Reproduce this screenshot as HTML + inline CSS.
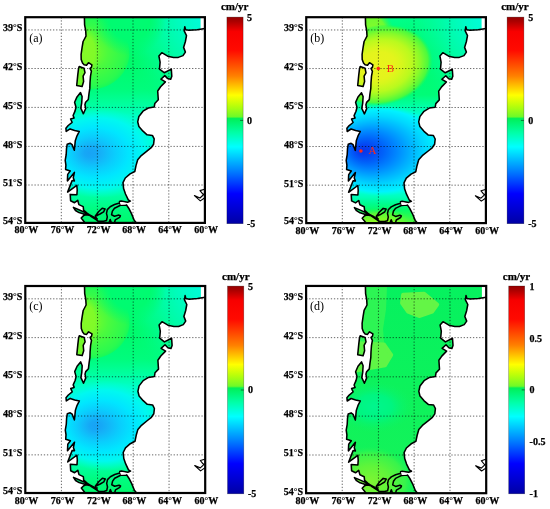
<!DOCTYPE html>
<html><head><meta charset="utf-8"><title>figure</title>
<style>
html,body{margin:0;padding:0;background:#fff}
svg{display:block}
text{font-family:"Liberation Serif","Times New Roman",serif;fill:#000}
.b{font-weight:bold;font-size:10px;stroke:#000;stroke-width:0.25px}
.u{font-size:11px}
.dg{font-size:9.2px;stroke-width:0.12px}
.r{font-size:12px}
.ab{font-size:11px;fill:#ff2818}
</style></head><body>
<svg width="550" height="509" viewBox="0 0 550 509">
<defs>
<linearGradient id="jet" x1="0" y1="0" x2="0" y2="1">
<stop offset="0" stop-color="#960000"/><stop offset="0.02" stop-color="#aa0000"/><stop offset="0.07" stop-color="#f80000"/><stop offset="0.16" stop-color="#ff0a00"/><stop offset="0.285" stop-color="#ff8000"/>
<stop offset="0.378" stop-color="#ffff00"/><stop offset="0.43" stop-color="#b9fe0a"/><stop offset="0.482" stop-color="#6efa28"/><stop offset="0.491" stop-color="#00f058"/>
<stop offset="0.56" stop-color="#00ffa8"/><stop offset="0.628" stop-color="#00ffff"/><stop offset="0.745" stop-color="#0080ff"/><stop offset="0.855" stop-color="#0000ff"/>
<stop offset="0.93" stop-color="#0000d2"/><stop offset="1" stop-color="#0000a4"/></linearGradient>
<clipPath id="clipa"><path d="M84.4,17.2L84.6,24.8L85.7,30.7L86.0,36.1L83.1,41.5L82.1,47.4L81.1,54.3L81.2,59.5L82.5,63.0L84.1,64.8L86.5,65.3L88.5,62.7L91.9,64.8L91.4,67.3L90.0,68.3L91.4,71.2L90.5,76.1L90.0,82.5L89.8,88.4L89.0,93.5L88.3,99.5L85.6,102.3L84.9,104.7L85.7,108.5L83.4,113.8L80.8,108.2L81.7,103.0L82.1,96.5L80.5,92.6L77.0,96.9L74.6,102.3L76.0,107.2L75.0,111.1L73.1,115.5L74.1,118.0L70.6,119.0L72.1,122.4L68.2,125.5L65.9,128.2L66.2,131.4L70.1,128.9L74.6,130.4L79.3,131.4L77.0,135.8L75.3,140.7L74.8,145.6L74.3,150.3L72.1,144.6L70.1,143.2L67.2,144.2L66.5,148.6L66.2,154.5L65.2,160.4L65.9,165.0L65.6,169.4L70.3,170.9L67.7,174.4L67.4,180.9L74.4,172.4L73.3,177.7L74.4,180.9L72.1,180.6L67.6,192.1L76.8,185.3L77.2,190.0L76.9,194.8L70.2,194.4L70.6,200.7L74.5,202.7L77.7,200.3L78.9,204.6L83.2,206.6L83.6,210.1L86.7,212.8L90.5,215.6L86.0,214.8L83.6,215.6L81.2,218.0L85.1,222.9L136.4,222.9L134.2,220.2L131.5,213.6L128.7,208.2L126.5,204.9L120.5,205.2L119.5,201.6L121.1,201.1L127.6,202.2L130.4,201.1L128.3,199.8L125.5,194.0L123.6,188.6L123.0,182.7L125.3,178.0L130.1,173.9L134.8,171.5L136.0,165.6L137.7,159.7L141.3,155.6L147.2,150.9L151.2,147.7L153.6,144.2L154.2,138.9L152.4,135.4L147.1,134.8L143.0,131.2L138.9,126.5L137.7,121.8L138.9,116.5L143.0,111.2L148.3,108.0L154.2,107.1L154.8,103.5L158.3,99.8L157.7,91.0L160.6,86.8L165.4,81.9L160.9,79.2L164.8,75.6L167.7,78.6L170.7,79.2L171.8,76.2L171.3,69.1L164.2,72.7L159.5,69.1L160.1,62.1L158.9,56.0L161.8,52.7L167.7,56.2L173.6,57.4L178.3,57.4L183.0,55.6L185.4,52.1L183.6,47.4L185.4,41.5L186.5,35.6L184.2,30.9L184.8,26.7L185.6,29.7L188.9,30.3L197.2,29.7L204.9,28.4L204.9,17.2ZM79.2,66.6L84.1,68.3L85.0,72.7L83.1,76.1L83.6,81.5L82.1,86.4L76.7,85.5L77.7,75.6L78.5,68.8ZM73.4,207.4L80.0,210.2L85.9,212.9L84.5,214.2L79.0,212.6L75.5,210.5Z"/></clipPath>
<linearGradient id="basea" gradientUnits="userSpaceOnUse" x1="0" y1="17.2" x2="0" y2="222.9"><stop offset="-0.001" stop-color="#00fd7d"/><stop offset="0.208" stop-color="#00fa69"/><stop offset="0.354" stop-color="#00fc7d"/><stop offset="0.427" stop-color="#00ffa0"/><stop offset="0.480" stop-color="#00ffc3"/><stop offset="0.539" stop-color="#00ffd7"/><stop offset="0.719" stop-color="#00ffd7"/><stop offset="0.801" stop-color="#00ffc8"/><stop offset="0.864" stop-color="#00ffa5"/><stop offset="0.928" stop-color="#00fc82"/><stop offset="0.996" stop-color="#00fa6e"/></linearGradient>
<radialGradient id="ga0" gradientUnits="userSpaceOnUse" cx="0" cy="0" r="1" fx="0" fy="0" gradientTransform="translate(206,14) rotate(0) scale(85,112)"><stop offset="0" stop-color="#00fbde" stop-opacity="1"/><stop offset="0.25" stop-color="#00fcc8" stop-opacity="1"/><stop offset="0.5" stop-color="#00fcaf" stop-opacity="0.9"/><stop offset="0.75" stop-color="#00fc96" stop-opacity="0.6"/><stop offset="1" stop-color="#00fb78" stop-opacity="0"/></radialGradient>
<radialGradient id="ga1" gradientUnits="userSpaceOnUse" cx="0" cy="0" r="1" fx="-0.18" fy="0" gradientTransform="translate(100,153) rotate(0) scale(60,45)"><stop offset="0" stop-color="#18a3f5" stop-opacity="1"/><stop offset="0.1" stop-color="#16a8f6" stop-opacity="1"/><stop offset="0.19" stop-color="#14b4f8" stop-opacity="1"/><stop offset="0.36" stop-color="#0acdfd" stop-opacity="1"/><stop offset="0.56" stop-color="#00e6ff" stop-opacity="1"/><stop offset="0.78" stop-color="#00f8f0" stop-opacity="1"/><stop offset="1" stop-color="#00ffd7" stop-opacity="0"/></radialGradient>
<radialGradient id="ga2" gradientUnits="userSpaceOnUse" cx="0" cy="0" r="1" fx="0" fy="0" gradientTransform="translate(90,53) rotate(0) scale(40,37)"><stop offset="0" stop-color="#6cfa2f" stop-opacity="1"/><stop offset="0.25" stop-color="#62fa33" stop-opacity="1"/><stop offset="0.45" stop-color="#4bfa3e" stop-opacity="1"/><stop offset="0.875" stop-color="#2afa4f" stop-opacity="1"/><stop offset="0.97" stop-color="#19fa58" stop-opacity="1"/><stop offset="1" stop-color="#14fa5a" stop-opacity="0"/></radialGradient>
<radialGradient id="ga3" gradientUnits="userSpaceOnUse" cx="0" cy="0" r="1" fx="0" fy="0" gradientTransform="translate(87,52) rotate(0) scale(14,27)"><stop offset="0" stop-color="#85fa28" stop-opacity="1"/><stop offset="0.55" stop-color="#80fa28" stop-opacity="1"/><stop offset="1" stop-color="#69fa30" stop-opacity="0"/></radialGradient>
<radialGradient id="ga4" gradientUnits="userSpaceOnUse" cx="0" cy="0" r="1" fx="0" fy="0" gradientTransform="translate(130,20) rotate(0) scale(36,36)"><stop offset="0" stop-color="#00fb73" stop-opacity="1"/><stop offset="0.55" stop-color="#00fb70" stop-opacity="1"/><stop offset="1" stop-color="#00fb6e" stop-opacity="0"/></radialGradient>
<radialGradient id="ga5" gradientUnits="userSpaceOnUse" cx="0" cy="0" r="1" fx="0" fy="0" gradientTransform="translate(81,76) rotate(0) scale(7.5,14)"><stop offset="0" stop-color="#76fa2a" stop-opacity="1"/><stop offset="0.7" stop-color="#70fa2c" stop-opacity="1"/><stop offset="1" stop-color="#64fa30" stop-opacity="0"/></radialGradient>
<clipPath id="clipb"><path d="M365.4,17.2L365.6,24.8L366.7,30.7L367.0,36.1L364.1,41.5L363.1,47.4L362.1,54.3L362.2,59.5L363.5,63.0L365.1,64.8L367.5,65.3L369.5,62.7L372.9,64.8L372.4,67.3L371.0,68.3L372.4,71.3L371.5,76.2L371.0,82.6L370.8,88.5L370.0,93.6L369.3,99.6L366.6,102.4L365.9,104.8L366.7,108.6L364.4,113.9L361.8,108.3L362.7,103.1L363.1,96.6L361.5,92.7L358.0,97.0L355.6,102.4L357.0,107.3L356.0,111.2L354.1,115.6L355.1,118.1L351.6,119.1L353.1,122.5L349.2,125.6L346.9,128.3L347.2,131.5L351.1,129.0L355.6,130.5L360.3,131.5L358.0,135.9L356.3,140.8L355.8,145.7L355.3,150.4L353.1,144.7L351.1,143.3L348.2,144.3L347.5,148.7L347.2,154.6L346.2,160.5L346.9,165.1L346.6,169.5L351.3,171.0L348.7,174.6L348.4,181.1L355.4,172.6L354.3,177.9L355.4,181.1L353.1,180.8L348.6,192.3L357.8,185.5L358.2,190.2L357.9,195.0L351.2,194.6L351.6,200.9L355.5,202.9L358.7,200.5L359.9,204.8L364.2,206.8L364.6,210.3L367.7,213.0L371.5,215.8L367.0,215.0L364.6,215.8L362.2,218.2L366.1,223.1L417.4,223.1L415.2,220.4L412.5,213.8L409.7,208.4L407.5,205.1L401.5,205.4L400.5,201.8L402.1,201.3L408.6,202.4L411.4,201.3L409.3,200.0L406.5,194.2L404.6,188.8L404.0,182.9L406.3,178.2L411.1,174.1L415.8,171.7L417.0,165.7L418.7,159.8L422.3,155.7L428.2,151.0L432.2,147.8L434.6,144.3L435.2,139.0L433.4,135.5L428.1,134.9L424.0,131.3L419.9,126.6L418.7,121.9L419.9,116.6L424.0,111.3L429.3,108.1L435.2,107.2L435.8,103.6L439.3,99.9L438.7,91.1L441.6,86.9L446.4,82.0L441.9,79.3L445.8,75.7L448.7,78.7L451.7,79.3L452.8,76.3L452.3,69.2L445.2,72.8L440.5,69.2L441.1,62.1L439.9,56.0L442.8,52.7L448.7,56.2L454.6,57.4L459.3,57.4L464.0,55.6L466.4,52.1L464.6,47.4L466.4,41.5L467.5,35.6L465.2,30.9L465.8,26.7L466.6,29.7L469.9,30.3L478.2,29.7L485.9,28.4L485.9,17.2ZM360.2,66.6L365.1,68.3L366.0,72.8L364.1,76.2L364.6,81.6L363.1,86.5L357.7,85.6L358.7,75.7L359.5,68.9ZM354.4,207.6L361.0,210.4L366.9,213.1L365.5,214.4L360.0,212.8L356.5,210.7Z"/></clipPath>
<linearGradient id="baseb" gradientUnits="userSpaceOnUse" x1="0" y1="17.2" x2="0" y2="222.9"><stop offset="-0.001" stop-color="#00ff8c"/><stop offset="0.159" stop-color="#00fa64"/><stop offset="0.378" stop-color="#00fc78"/><stop offset="0.427" stop-color="#00ffa0"/><stop offset="0.475" stop-color="#00ffd2"/><stop offset="0.524" stop-color="#00faf5"/><stop offset="0.753" stop-color="#00faf5"/><stop offset="0.806" stop-color="#00fcee"/><stop offset="0.840" stop-color="#00ffde"/><stop offset="0.874" stop-color="#00ffb9"/><stop offset="0.908" stop-color="#00fc8c"/><stop offset="0.937" stop-color="#08fa66"/><stop offset="0.966" stop-color="#28fa50"/><stop offset="0.996" stop-color="#55fa3a"/></linearGradient>
<radialGradient id="gb0" gradientUnits="userSpaceOnUse" cx="0" cy="0" r="1" fx="0" fy="0" gradientTransform="translate(206,14) rotate(0) scale(85,112)"><stop offset="0" stop-color="#00fbde" stop-opacity="1"/><stop offset="0.25" stop-color="#00fcc8" stop-opacity="1"/><stop offset="0.5" stop-color="#00fcaf" stop-opacity="0.9"/><stop offset="0.75" stop-color="#00fc96" stop-opacity="0.6"/><stop offset="1" stop-color="#00fb78" stop-opacity="0"/></radialGradient>
<radialGradient id="gb1" gradientUnits="userSpaceOnUse" cx="0" cy="0" r="1" fx="-0.3" fy="0" gradientTransform="translate(100,150.5) rotate(0) scale(64,45.5)"><stop offset="0" stop-color="#0a32e8" stop-opacity="1"/><stop offset="0.12" stop-color="#0544f2" stop-opacity="1"/><stop offset="0.27" stop-color="#0064fa" stop-opacity="1"/><stop offset="0.42" stop-color="#0087ff" stop-opacity="1"/><stop offset="0.58" stop-color="#00afff" stop-opacity="1"/><stop offset="0.75" stop-color="#00d7ff" stop-opacity="1"/><stop offset="0.9" stop-color="#00f2ff" stop-opacity="1"/><stop offset="1" stop-color="#00fceb" stop-opacity="0"/></radialGradient>
<radialGradient id="gb2" gradientUnits="userSpaceOnUse" cx="0" cy="0" r="1" fx="0" fy="0" gradientTransform="translate(93,32) rotate(-15) scale(20,26)"><stop offset="0" stop-color="#87fa2a" stop-opacity="1"/><stop offset="0.6" stop-color="#6efa32" stop-opacity="1"/><stop offset="1" stop-color="#28fa50" stop-opacity="0"/></radialGradient>
<radialGradient id="gb3" gradientUnits="userSpaceOnUse" cx="0" cy="0" r="1" fx="-0.1" fy="0" gradientTransform="translate(100,65) rotate(-12) scale(52,40)"><stop offset="0" stop-color="#e9f31c" stop-opacity="1"/><stop offset="0.34" stop-color="#e4f41c" stop-opacity="1"/><stop offset="0.46" stop-color="#d6f71c" stop-opacity="1"/><stop offset="0.64" stop-color="#b9fa1e" stop-opacity="1"/><stop offset="0.79" stop-color="#87fa2a" stop-opacity="1"/><stop offset="0.92" stop-color="#4bfa3e" stop-opacity="1"/><stop offset="1" stop-color="#1efa55" stop-opacity="0"/></radialGradient>
<radialGradient id="gb4" gradientUnits="userSpaceOnUse" cx="0" cy="0" r="1" fx="0" fy="0" gradientTransform="translate(98,229) rotate(0) scale(40,21)"><stop offset="0" stop-color="#a8fa1e" stop-opacity="1"/><stop offset="0.45" stop-color="#87fa24" stop-opacity="1"/><stop offset="0.75" stop-color="#5afa37" stop-opacity="1"/><stop offset="1" stop-color="#28fa50" stop-opacity="0"/></radialGradient>
<clipPath id="clipc"><path d="M84.5,286.0L84.7,293.6L85.8,299.6L86.1,305.0L83.2,310.5L82.2,316.4L81.2,323.3L81.3,328.6L82.6,332.1L84.2,333.9L86.6,334.4L88.6,331.8L92.0,333.9L91.5,336.4L90.1,337.4L91.5,340.3L90.6,345.3L90.1,351.7L89.9,357.6L89.1,362.8L88.4,368.8L85.7,371.6L85.0,374.1L85.8,377.9L83.5,383.2L80.9,377.6L81.8,372.3L82.2,365.8L80.6,361.9L77.1,366.2L74.7,371.6L76.1,376.6L75.1,380.5L73.2,384.9L74.2,387.4L70.7,388.4L72.2,391.9L68.3,395.0L66.0,397.7L66.3,400.9L70.2,398.4L74.7,399.9L79.4,400.9L77.1,405.3L75.4,410.3L74.9,415.2L74.4,419.9L72.2,414.2L70.2,412.8L67.3,413.8L66.6,418.2L66.3,424.2L65.3,430.1L66.0,434.7L65.7,439.2L70.4,440.7L67.8,444.2L67.5,450.7L74.5,442.2L73.4,447.5L74.5,450.7L72.2,450.4L67.7,462.0L76.9,455.2L77.3,459.9L77.0,464.7L70.3,464.3L70.7,470.7L74.6,472.7L77.8,470.3L79.0,474.6L83.3,476.6L83.7,480.1L86.8,482.8L90.6,485.7L86.1,484.8L83.7,485.7L81.3,488.1L85.2,493.0L136.6,493.0L134.4,490.3L131.7,483.6L128.9,478.2L126.7,474.9L120.7,475.2L119.7,471.6L121.3,471.1L127.8,472.2L130.6,471.1L128.5,469.8L125.7,463.9L123.8,458.5L123.2,452.5L125.5,447.8L130.3,443.7L135.0,441.3L136.2,435.3L137.9,429.4L141.5,425.3L147.4,420.5L151.4,417.3L153.8,413.8L154.4,408.5L152.6,404.9L147.3,404.3L143.2,400.7L139.1,396.0L137.9,391.3L139.1,385.9L143.2,380.6L148.5,377.4L154.4,376.5L155.0,372.8L158.5,369.1L157.9,360.3L160.8,356.0L165.6,351.1L161.1,348.4L165.0,344.8L167.9,347.8L171.0,348.4L172.1,345.4L171.6,338.2L164.4,341.9L159.7,338.2L160.3,331.2L159.1,325.0L162.0,321.7L167.9,325.2L173.9,326.5L178.6,326.5L183.3,324.6L185.7,321.1L183.9,316.4L185.7,310.5L186.8,304.5L184.5,299.8L185.1,295.6L185.9,298.6L189.2,299.2L197.5,298.6L205.2,297.3L205.2,286.0ZM79.3,335.7L84.2,337.4L85.1,341.9L83.2,345.3L83.7,350.7L82.2,355.6L76.8,354.7L77.8,344.8L78.6,337.9ZM73.5,477.4L80.1,480.2L86.0,482.9L84.6,484.2L79.1,482.6L75.6,480.5Z"/></clipPath>
<linearGradient id="basec" gradientUnits="userSpaceOnUse" x1="0" y1="17.2" x2="0" y2="222.9"><stop offset="-0.001" stop-color="#00fd7d"/><stop offset="0.208" stop-color="#00fa69"/><stop offset="0.354" stop-color="#00fc7d"/><stop offset="0.427" stop-color="#00ffa0"/><stop offset="0.480" stop-color="#00ffc3"/><stop offset="0.539" stop-color="#00ffd7"/><stop offset="0.719" stop-color="#00ffd7"/><stop offset="0.801" stop-color="#00ffc8"/><stop offset="0.864" stop-color="#00ffa5"/><stop offset="0.928" stop-color="#00fc82"/><stop offset="0.996" stop-color="#00fa6e"/></linearGradient>
<radialGradient id="gc0" gradientUnits="userSpaceOnUse" cx="0" cy="0" r="1" fx="0" fy="0" gradientTransform="translate(206,14) rotate(0) scale(85,112)"><stop offset="0" stop-color="#00fbde" stop-opacity="1"/><stop offset="0.25" stop-color="#00fcc8" stop-opacity="1"/><stop offset="0.5" stop-color="#00fcaf" stop-opacity="0.9"/><stop offset="0.75" stop-color="#00fc96" stop-opacity="0.6"/><stop offset="1" stop-color="#00fb78" stop-opacity="0"/></radialGradient>
<radialGradient id="gc1" gradientUnits="userSpaceOnUse" cx="0" cy="0" r="1" fx="-0.18" fy="0" gradientTransform="translate(105,156) rotate(0) scale(60,45)"><stop offset="0" stop-color="#18a3f5" stop-opacity="1"/><stop offset="0.1" stop-color="#16a8f6" stop-opacity="1"/><stop offset="0.19" stop-color="#14b4f8" stop-opacity="1"/><stop offset="0.36" stop-color="#0acdfd" stop-opacity="1"/><stop offset="0.56" stop-color="#00e6ff" stop-opacity="1"/><stop offset="0.78" stop-color="#00f8f0" stop-opacity="1"/><stop offset="1" stop-color="#00ffd7" stop-opacity="0"/></radialGradient>
<radialGradient id="gc2" gradientUnits="userSpaceOnUse" cx="0" cy="0" r="1" fx="0" fy="0" gradientTransform="translate(90,53) rotate(0) scale(40,37)"><stop offset="0" stop-color="#6cfa2f" stop-opacity="1"/><stop offset="0.25" stop-color="#62fa33" stop-opacity="1"/><stop offset="0.45" stop-color="#4bfa3e" stop-opacity="1"/><stop offset="0.875" stop-color="#2afa4f" stop-opacity="1"/><stop offset="0.97" stop-color="#19fa58" stop-opacity="1"/><stop offset="1" stop-color="#14fa5a" stop-opacity="0"/></radialGradient>
<radialGradient id="gc3" gradientUnits="userSpaceOnUse" cx="0" cy="0" r="1" fx="0" fy="0" gradientTransform="translate(87,52) rotate(0) scale(14,27)"><stop offset="0" stop-color="#85fa28" stop-opacity="1"/><stop offset="0.55" stop-color="#80fa28" stop-opacity="1"/><stop offset="1" stop-color="#69fa30" stop-opacity="0"/></radialGradient>
<radialGradient id="gc4" gradientUnits="userSpaceOnUse" cx="0" cy="0" r="1" fx="0" fy="0" gradientTransform="translate(130,20) rotate(0) scale(36,36)"><stop offset="0" stop-color="#00fb73" stop-opacity="1"/><stop offset="0.55" stop-color="#00fb70" stop-opacity="1"/><stop offset="1" stop-color="#00fb6e" stop-opacity="0"/></radialGradient>
<radialGradient id="gc5" gradientUnits="userSpaceOnUse" cx="0" cy="0" r="1" fx="0" fy="0" gradientTransform="translate(81,76) rotate(0) scale(7.5,14)"><stop offset="0" stop-color="#76fa2a" stop-opacity="1"/><stop offset="0.7" stop-color="#70fa2c" stop-opacity="1"/><stop offset="1" stop-color="#64fa30" stop-opacity="0"/></radialGradient>
<clipPath id="clipd"><path d="M365.4,285.9L365.6,293.6L366.7,299.6L367.0,305.0L364.1,310.4L363.1,316.4L362.1,323.3L362.2,328.6L363.5,332.1L365.1,333.9L367.5,334.4L369.5,331.8L372.9,333.9L372.4,336.4L371.0,337.4L372.4,340.4L371.5,345.3L371.0,351.7L370.8,357.7L370.0,362.8L369.3,368.9L366.6,371.7L365.9,374.1L366.7,377.9L364.4,383.3L361.8,377.6L362.7,372.4L363.1,365.8L361.5,361.9L358.0,366.3L355.6,371.7L357.0,376.6L356.0,380.6L354.1,385.0L355.1,387.5L351.6,388.5L353.1,391.9L349.2,395.1L346.9,397.8L347.2,401.0L351.1,398.5L355.6,400.0L360.3,401.0L358.0,405.4L356.3,410.4L355.8,415.3L355.3,420.1L353.1,414.3L351.1,412.9L348.2,413.9L347.5,418.3L347.2,424.3L346.2,430.2L346.9,434.9L346.6,439.3L351.3,440.8L348.7,444.3L348.4,450.9L355.4,442.3L354.3,447.7L355.4,450.9L353.1,450.6L348.6,462.2L357.8,455.3L358.2,460.1L357.9,464.9L351.2,464.5L351.6,470.8L355.5,472.8L358.7,470.4L359.9,474.8L364.2,476.8L364.6,480.3L367.7,483.0L371.5,485.8L367.0,485.0L364.6,485.8L362.2,488.3L366.1,493.2L417.5,493.2L415.3,490.5L412.6,483.8L409.8,478.4L407.6,475.1L401.6,475.4L400.6,471.7L402.2,471.2L408.7,472.3L411.5,471.2L409.4,469.9L406.6,464.1L404.7,458.6L404.1,452.7L406.4,448.0L411.2,443.8L415.9,441.4L417.1,435.5L418.8,429.5L422.4,425.4L428.4,420.7L432.4,417.4L434.8,413.9L435.4,408.6L433.6,405.0L428.3,404.4L424.1,400.8L420.0,396.1L418.8,391.3L420.0,386.0L424.1,380.7L429.5,377.4L435.4,376.5L436.0,372.9L439.5,369.2L438.9,360.3L441.8,356.1L446.6,351.1L442.1,348.4L446.0,344.8L448.9,347.8L451.9,348.4L453.0,345.4L452.5,338.2L445.4,341.9L440.7,338.2L441.3,331.2L440.1,325.0L443.0,321.7L448.9,325.2L454.8,326.5L459.5,326.5L464.2,324.6L466.7,321.1L464.8,316.4L466.7,310.4L467.8,304.5L465.4,299.8L466.0,295.5L466.9,298.5L470.2,299.1L478.5,298.5L486.2,297.2L486.2,285.9ZM360.2,335.7L365.1,337.4L366.0,341.9L364.1,345.3L364.6,350.7L363.1,355.7L357.7,354.8L358.7,344.8L359.5,337.9ZM354.4,477.6L361.0,480.4L366.9,483.1L365.5,484.4L360.0,482.8L356.5,480.7Z"/></clipPath>
<linearGradient id="based" gradientUnits="userSpaceOnUse" x1="0" y1="17.2" x2="0" y2="222.9"><stop offset="-0.001" stop-color="#06f15f"/><stop offset="0.451" stop-color="#0cf25c"/><stop offset="0.996" stop-color="#16f359"/></linearGradient>
<radialGradient id="gd0" gradientUnits="userSpaceOnUse" cx="0" cy="0" r="1" fx="0" fy="0" gradientTransform="translate(93,137) rotate(0) scale(40,26)"><stop offset="0" stop-color="#00f58e" stop-opacity="1"/><stop offset="0.45" stop-color="#00f580" stop-opacity="1"/><stop offset="1" stop-color="#0ef360" stop-opacity="0"/></radialGradient>
<radialGradient id="gd1" gradientUnits="userSpaceOnUse" cx="0" cy="0" r="1" fx="0" fy="0" gradientTransform="translate(89,212) rotate(0) scale(44,36)"><stop offset="0" stop-color="#80f532" stop-opacity="1"/><stop offset="0.45" stop-color="#5ff53a" stop-opacity="1"/><stop offset="0.8" stop-color="#37f44c" stop-opacity="1"/><stop offset="1" stop-color="#18f358" stop-opacity="0"/></radialGradient>
</defs>
<rect width="550" height="509" fill="#fff"/>
<g clip-path="url(#clipa)">
<g transform="translate(25.25,17.2) scale(1.0000,1.0000) translate(-25.25,-17.2)">
<rect x="20" y="12" width="190" height="216" fill="url(#basea)"/>
<rect x="20" y="12" width="190" height="216" fill="url(#ga0)"/>
<rect x="20" y="12" width="190" height="216" fill="url(#ga1)"/>
<rect x="20" y="12" width="190" height="216" fill="url(#ga2)"/>
<rect x="20" y="12" width="190" height="216" fill="url(#ga3)"/>
<rect x="20" y="12" width="190" height="216" fill="url(#ga4)"/>
<rect x="20" y="12" width="190" height="216" fill="url(#ga5)"/>
</g>
<rect x="200.6" y="17.2" width="4.3" height="11.8" fill="#fff"/>
</g>
<path d="M84.4,17.2L84.6,24.8L85.7,30.7L86.0,36.1L83.1,41.5L82.1,47.4L81.1,54.3L81.2,59.5L82.5,63.0L84.1,64.8L86.5,65.3L88.5,62.7L91.9,64.8L91.4,67.3L90.0,68.3L91.4,71.2L90.5,76.1L90.0,82.5L89.8,88.4L89.0,93.5L88.3,99.5L85.6,102.3L84.9,104.7L85.7,108.5L83.4,113.8L80.8,108.2L81.7,103.0L82.1,96.5L80.5,92.6L77.0,96.9L74.6,102.3L76.0,107.2L75.0,111.1L73.1,115.5L74.1,118.0L70.6,119.0L72.1,122.4L68.2,125.5L65.9,128.2L66.2,131.4L70.1,128.9L74.6,130.4L79.3,131.4L77.0,135.8L75.3,140.7L74.8,145.6L74.3,150.3L72.1,144.6L70.1,143.2L67.2,144.2L66.5,148.6L66.2,154.5L65.2,160.4L65.9,165.0L65.6,169.4L70.3,170.9L67.7,174.4L67.4,180.9L74.4,172.4L73.3,177.7L74.4,180.9L72.1,180.6L67.6,192.1L76.8,185.3L77.2,190.0L76.9,194.8L70.2,194.4L70.6,200.7L74.5,202.7L77.7,200.3L78.9,204.6L83.2,206.6L83.6,210.1L86.7,212.8L90.5,215.6L86.0,214.8L83.6,215.6L81.2,218.0L85.1,222.9M136.4,222.9L134.2,220.2L131.5,213.6L128.7,208.2L126.5,204.9L120.5,205.2L119.5,201.6L121.1,201.1L127.6,202.2L130.4,201.1L128.3,199.8L125.5,194.0L123.6,188.6L123.0,182.7L125.3,178.0L130.1,173.9L134.8,171.5L136.0,165.6L137.7,159.7L141.3,155.6L147.2,150.9L151.2,147.7L153.6,144.2L154.2,138.9L152.4,135.4L147.1,134.8L143.0,131.2L138.9,126.5L137.7,121.8L138.9,116.5L143.0,111.2L148.3,108.0L154.2,107.1L154.8,103.5L158.3,99.8L157.7,91.0L160.6,86.8L165.4,81.9L160.9,79.2L164.8,75.6L167.7,78.6L170.7,79.2L171.8,76.2L171.3,69.1L164.2,72.7L159.5,69.1L160.1,62.1L158.9,56.0L161.8,52.7L167.7,56.2L173.6,57.4L178.3,57.4L183.0,55.6L185.4,52.1L183.6,47.4L185.4,41.5L186.5,35.6L184.2,30.9L184.8,26.7L185.6,29.7L188.9,30.3L197.2,29.7L204.9,28.4M79.2,66.6L84.1,68.3L85.0,72.7L83.1,76.1L83.6,81.5L82.1,86.4L76.7,85.5L77.7,75.6L78.5,68.8ZM73.4,207.4L80.0,210.2L85.9,212.9L84.5,214.2L79.0,212.6L75.5,210.5ZM119.6,203.1L114.5,204.5L110.2,206.7L107.3,209.6L106.5,213.3L107.3,216.9L106.5,220.5L103.6,221.3L98.5,221.3L96.4,219.8L91.3,216.5L86.9,213.6M97.1,219.1L95.2,216.2L98.5,211.8L102.2,208.2L105.1,208.9L103.6,211.8L100.0,214.0L95.2,216.2M120.4,205.3L117.5,206.7L114.5,208.2L112.4,211.1L111.6,214.7L114.5,216.2L118.9,215.1L120.4,215.8L119.6,217.3L115.3,219.8L114.5,222.7M109.1,222.4L110.2,219.5L111.3,222.4M85.9,212.9L93.0,216.6L96.9,219.8" fill="none" stroke="#000" stroke-width="1.55" stroke-linejoin="round" stroke-linecap="round"/>
<path d="M204.5,189.3L200.0,190.6L202.7,193.9L204.3,194.6M204.3,194.0L200.0,198.0L194.4,195.6L200.3,200.9L204.5,198.0" fill="none" stroke="#000" stroke-width="1.15" stroke-linejoin="round"/>
<path d="M119.9,202.0L125.5,203.0L125.8,204.6L120.6,204.8Z" fill="#fff"/>
<path d="M61.30,17.2V222.9M97.40,17.2V222.9M133.00,17.2V222.9M168.80,17.2V222.9M25.2,29.95H204.9M25.2,68.50H204.9M25.2,107.40H204.9M25.2,146.40H204.9M25.2,185.00H204.9" fill="none" stroke="#000" stroke-opacity="0.6" stroke-width="1" stroke-dasharray="1.3 1.79"/>
<rect x="25.25" y="17.2" width="179.65" height="205.70" fill="none" stroke="#000" stroke-width="2.2"/>
<text class="b" x="26.4" y="233.4" text-anchor="middle">80<tspan class="dg" dy="-1.0">°</tspan><tspan dy="1.0">W</tspan></text>
<text class="b" x="62.5" y="233.4" text-anchor="middle">76<tspan class="dg" dy="-1.0">°</tspan><tspan dy="1.0">W</tspan></text>
<text class="b" x="98.6" y="233.4" text-anchor="middle">72<tspan class="dg" dy="-1.0">°</tspan><tspan dy="1.0">W</tspan></text>
<text class="b" x="134.2" y="233.4" text-anchor="middle">68<tspan class="dg" dy="-1.0">°</tspan><tspan dy="1.0">W</tspan></text>
<text class="b" x="170.0" y="233.4" text-anchor="middle">64<tspan class="dg" dy="-1.0">°</tspan><tspan dy="1.0">W</tspan></text>
<text class="b" x="206.1" y="233.4" text-anchor="middle">60<tspan class="dg" dy="-1.0">°</tspan><tspan dy="1.0">W</tspan></text>
<text class="b" x="22.2" y="31.2" text-anchor="end">39<tspan class="dg" dy="-1.0">°</tspan><tspan dy="1.0">S</tspan></text>
<text class="b" x="22.2" y="69.8" text-anchor="end">42<tspan class="dg" dy="-1.0">°</tspan><tspan dy="1.0">S</tspan></text>
<text class="b" x="22.2" y="108.7" text-anchor="end">45<tspan class="dg" dy="-1.0">°</tspan><tspan dy="1.0">S</tspan></text>
<text class="b" x="22.2" y="147.7" text-anchor="end">48<tspan class="dg" dy="-1.0">°</tspan><tspan dy="1.0">S</tspan></text>
<text class="b" x="22.2" y="186.3" text-anchor="end">51<tspan class="dg" dy="-1.0">°</tspan><tspan dy="1.0">S</tspan></text>
<text class="b" x="22.2" y="224.2" text-anchor="end">54<tspan class="dg" dy="-1.0">°</tspan><tspan dy="1.0">S</tspan></text>
<text class="r" x="29.2" y="41.5">(a)</text>
<rect x="226.9" y="17.1" width="16.2" height="206.6" fill="url(#jet)" stroke="#000" stroke-opacity="0.4" stroke-width="0.6"/>
<path d="M240.1,120.4h3" stroke="#000" stroke-opacity="0.7" stroke-width="0.7"/>
<text class="b u" x="234.7" y="10.4" text-anchor="middle">cm/yr</text>
<text class="b" x="247.0" y="21.3">5</text>
<text class="b" x="247.0" y="123.9">0</text>
<text class="b" x="247.0" y="227.3">-5</text>
<g clip-path="url(#clipb)">
<g transform="translate(306.25,17.2) scale(1.0000,1.0010) translate(-25.25,-17.2)">
<rect x="20" y="12" width="190" height="216" fill="url(#baseb)"/>
<rect x="20" y="12" width="190" height="216" fill="url(#gb0)"/>
<rect x="20" y="12" width="190" height="216" fill="url(#gb1)"/>
<rect x="20" y="12" width="190" height="216" fill="url(#gb2)"/>
<rect x="20" y="12" width="190" height="216" fill="url(#gb3)"/>
<rect x="20" y="12" width="190" height="216" fill="url(#gb4)"/>
</g>
<rect x="481.6" y="17.2" width="4.3" height="11.8" fill="#fff"/>
</g>
<path d="M365.4,17.2L365.6,24.8L366.7,30.7L367.0,36.1L364.1,41.5L363.1,47.4L362.1,54.3L362.2,59.5L363.5,63.0L365.1,64.8L367.5,65.3L369.5,62.7L372.9,64.8L372.4,67.3L371.0,68.3L372.4,71.3L371.5,76.2L371.0,82.6L370.8,88.5L370.0,93.6L369.3,99.6L366.6,102.4L365.9,104.8L366.7,108.6L364.4,113.9L361.8,108.3L362.7,103.1L363.1,96.6L361.5,92.7L358.0,97.0L355.6,102.4L357.0,107.3L356.0,111.2L354.1,115.6L355.1,118.1L351.6,119.1L353.1,122.5L349.2,125.6L346.9,128.3L347.2,131.5L351.1,129.0L355.6,130.5L360.3,131.5L358.0,135.9L356.3,140.8L355.8,145.7L355.3,150.4L353.1,144.7L351.1,143.3L348.2,144.3L347.5,148.7L347.2,154.6L346.2,160.5L346.9,165.1L346.6,169.5L351.3,171.0L348.7,174.6L348.4,181.1L355.4,172.6L354.3,177.9L355.4,181.1L353.1,180.8L348.6,192.3L357.8,185.5L358.2,190.2L357.9,195.0L351.2,194.6L351.6,200.9L355.5,202.9L358.7,200.5L359.9,204.8L364.2,206.8L364.6,210.3L367.7,213.0L371.5,215.8L367.0,215.0L364.6,215.8L362.2,218.2L366.1,223.1M417.4,223.1L415.2,220.4L412.5,213.8L409.7,208.4L407.5,205.1L401.5,205.4L400.5,201.8L402.1,201.3L408.6,202.4L411.4,201.3L409.3,200.0L406.5,194.2L404.6,188.8L404.0,182.9L406.3,178.2L411.1,174.1L415.8,171.7L417.0,165.7L418.7,159.8L422.3,155.7L428.2,151.0L432.2,147.8L434.6,144.3L435.2,139.0L433.4,135.5L428.1,134.9L424.0,131.3L419.9,126.6L418.7,121.9L419.9,116.6L424.0,111.3L429.3,108.1L435.2,107.2L435.8,103.6L439.3,99.9L438.7,91.1L441.6,86.9L446.4,82.0L441.9,79.3L445.8,75.7L448.7,78.7L451.7,79.3L452.8,76.3L452.3,69.2L445.2,72.8L440.5,69.2L441.1,62.1L439.9,56.0L442.8,52.7L448.7,56.2L454.6,57.4L459.3,57.4L464.0,55.6L466.4,52.1L464.6,47.4L466.4,41.5L467.5,35.6L465.2,30.9L465.8,26.7L466.6,29.7L469.9,30.3L478.2,29.7L485.9,28.4M360.2,66.6L365.1,68.3L366.0,72.8L364.1,76.2L364.6,81.6L363.1,86.5L357.7,85.6L358.7,75.7L359.5,68.9ZM354.4,207.6L361.0,210.4L366.9,213.1L365.5,214.4L360.0,212.8L356.5,210.7ZM400.6,203.3L395.5,204.7L391.2,206.9L388.3,209.8L387.5,213.5L388.3,217.1L387.5,220.7L384.6,221.5L379.5,221.5L377.4,220.0L372.3,216.7L367.9,213.8M378.1,219.3L376.2,216.4L379.5,212.0L383.2,208.4L386.1,209.1L384.6,212.0L381.0,214.2L376.2,216.4M401.4,205.5L398.5,206.9L395.5,208.4L393.4,211.3L392.6,214.9L395.5,216.4L399.9,215.3L401.4,216.0L400.6,217.5L396.3,220.0L395.5,222.9M390.1,222.6L391.2,219.7L392.3,222.6M366.9,213.1L374.0,216.8L377.9,220.0" fill="none" stroke="#000" stroke-width="1.55" stroke-linejoin="round" stroke-linecap="round"/>
<path d="M485.5,189.5L481.0,190.8L483.7,194.1L485.3,194.8M485.3,194.2L481.0,198.2L475.4,195.8L481.3,201.1L485.5,198.2" fill="none" stroke="#000" stroke-width="1.15" stroke-linejoin="round"/>
<path d="M400.9,202.2L406.5,203.2L406.8,204.8L401.6,205.0Z" fill="#fff"/>
<path d="M342.30,17.2V223.1M378.40,17.2V223.1M414.00,17.2V223.1M449.80,17.2V223.1M306.2,29.96H485.9M306.2,68.55H485.9M306.2,107.49H485.9M306.2,146.53H485.9M306.2,185.16H485.9" fill="none" stroke="#000" stroke-opacity="0.6" stroke-width="1" stroke-dasharray="1.3 1.79"/>
<rect x="306.25" y="17.2" width="179.65" height="205.90" fill="none" stroke="#000" stroke-width="2.2"/>
<text class="b" x="307.4" y="233.6" text-anchor="middle">80<tspan class="dg" dy="-1.0">°</tspan><tspan dy="1.0">W</tspan></text>
<text class="b" x="343.5" y="233.6" text-anchor="middle">76<tspan class="dg" dy="-1.0">°</tspan><tspan dy="1.0">W</tspan></text>
<text class="b" x="379.6" y="233.6" text-anchor="middle">72<tspan class="dg" dy="-1.0">°</tspan><tspan dy="1.0">W</tspan></text>
<text class="b" x="415.2" y="233.6" text-anchor="middle">68<tspan class="dg" dy="-1.0">°</tspan><tspan dy="1.0">W</tspan></text>
<text class="b" x="451.0" y="233.6" text-anchor="middle">64<tspan class="dg" dy="-1.0">°</tspan><tspan dy="1.0">W</tspan></text>
<text class="b" x="487.1" y="233.6" text-anchor="middle">60<tspan class="dg" dy="-1.0">°</tspan><tspan dy="1.0">W</tspan></text>
<text class="b" x="303.2" y="31.3" text-anchor="end">39<tspan class="dg" dy="-1.0">°</tspan><tspan dy="1.0">S</tspan></text>
<text class="b" x="303.2" y="69.8" text-anchor="end">42<tspan class="dg" dy="-1.0">°</tspan><tspan dy="1.0">S</tspan></text>
<text class="b" x="303.2" y="108.8" text-anchor="end">45<tspan class="dg" dy="-1.0">°</tspan><tspan dy="1.0">S</tspan></text>
<text class="b" x="303.2" y="147.8" text-anchor="end">48<tspan class="dg" dy="-1.0">°</tspan><tspan dy="1.0">S</tspan></text>
<text class="b" x="303.2" y="186.5" text-anchor="end">51<tspan class="dg" dy="-1.0">°</tspan><tspan dy="1.0">S</tspan></text>
<text class="b" x="303.2" y="224.4" text-anchor="end">54<tspan class="dg" dy="-1.0">°</tspan><tspan dy="1.0">S</tspan></text>
<text class="r" x="310.2" y="41.5">(b)</text>
<rect x="507.1" y="17.1" width="16.8" height="206.6" fill="url(#jet)" stroke="#000" stroke-opacity="0.4" stroke-width="0.6"/>
<path d="M520.9,120.4h3" stroke="#000" stroke-opacity="0.7" stroke-width="0.7"/>
<text class="b u" x="514.9" y="10.1" text-anchor="middle">cm/yr</text>
<text class="b" x="528.2" y="21.3">5</text>
<text class="b" x="528.2" y="123.9">0</text>
<text class="b" x="528.2" y="227.3">-5</text>
<g clip-path="url(#clipc)">
<g transform="translate(25.3,286.0) scale(1.0014,1.0063) translate(-25.25,-17.2)">
<rect x="20" y="12" width="190" height="216" fill="url(#basec)"/>
<rect x="20" y="12" width="190" height="216" fill="url(#gc0)"/>
<rect x="20" y="12" width="190" height="216" fill="url(#gc1)"/>
<rect x="20" y="12" width="190" height="216" fill="url(#gc2)"/>
<rect x="20" y="12" width="190" height="216" fill="url(#gc3)"/>
<rect x="20" y="12" width="190" height="216" fill="url(#gc4)"/>
<rect x="20" y="12" width="190" height="216" fill="url(#gc5)"/>
</g>
<rect x="200.9" y="286.0" width="4.3" height="11.9" fill="#fff"/>
</g>
<path d="M84.5,286.0L84.7,293.6L85.8,299.6L86.1,305.0L83.2,310.5L82.2,316.4L81.2,323.3L81.3,328.6L82.6,332.1L84.2,333.9L86.6,334.4L88.6,331.8L92.0,333.9L91.5,336.4L90.1,337.4L91.5,340.3L90.6,345.3L90.1,351.7L89.9,357.6L89.1,362.8L88.4,368.8L85.7,371.6L85.0,374.1L85.8,377.9L83.5,383.2L80.9,377.6L81.8,372.3L82.2,365.8L80.6,361.9L77.1,366.2L74.7,371.6L76.1,376.6L75.1,380.5L73.2,384.9L74.2,387.4L70.7,388.4L72.2,391.9L68.3,395.0L66.0,397.7L66.3,400.9L70.2,398.4L74.7,399.9L79.4,400.9L77.1,405.3L75.4,410.3L74.9,415.2L74.4,419.9L72.2,414.2L70.2,412.8L67.3,413.8L66.6,418.2L66.3,424.2L65.3,430.1L66.0,434.7L65.7,439.2L70.4,440.7L67.8,444.2L67.5,450.7L74.5,442.2L73.4,447.5L74.5,450.7L72.2,450.4L67.7,462.0L76.9,455.2L77.3,459.9L77.0,464.7L70.3,464.3L70.7,470.7L74.6,472.7L77.8,470.3L79.0,474.6L83.3,476.6L83.7,480.1L86.8,482.8L90.6,485.7L86.1,484.8L83.7,485.7L81.3,488.1L85.2,493.0M136.6,493.0L134.4,490.3L131.7,483.6L128.9,478.2L126.7,474.9L120.7,475.2L119.7,471.6L121.3,471.1L127.8,472.2L130.6,471.1L128.5,469.8L125.7,463.9L123.8,458.5L123.2,452.5L125.5,447.8L130.3,443.7L135.0,441.3L136.2,435.3L137.9,429.4L141.5,425.3L147.4,420.5L151.4,417.3L153.8,413.8L154.4,408.5L152.6,404.9L147.3,404.3L143.2,400.7L139.1,396.0L137.9,391.3L139.1,385.9L143.2,380.6L148.5,377.4L154.4,376.5L155.0,372.8L158.5,369.1L157.9,360.3L160.8,356.0L165.6,351.1L161.1,348.4L165.0,344.8L167.9,347.8L171.0,348.4L172.1,345.4L171.6,338.2L164.4,341.9L159.7,338.2L160.3,331.2L159.1,325.0L162.0,321.7L167.9,325.2L173.9,326.5L178.6,326.5L183.3,324.6L185.7,321.1L183.9,316.4L185.7,310.5L186.8,304.5L184.5,299.8L185.1,295.6L185.9,298.6L189.2,299.2L197.5,298.6L205.2,297.3M79.3,335.7L84.2,337.4L85.1,341.9L83.2,345.3L83.7,350.7L82.2,355.6L76.8,354.7L77.8,344.8L78.6,337.9ZM73.5,477.4L80.1,480.2L86.0,482.9L84.6,484.2L79.1,482.6L75.6,480.5ZM119.8,473.1L114.7,474.5L110.4,476.7L107.5,479.6L106.7,483.3L107.5,487.0L106.7,490.6L103.8,491.4L98.7,491.4L96.5,489.9L91.4,486.6L87.0,483.6M97.2,489.2L95.3,486.3L98.7,481.8L102.4,478.2L105.3,478.9L103.8,481.8L100.2,484.0L95.3,486.3M120.6,475.3L117.7,476.7L114.7,478.2L112.6,481.1L111.8,484.7L114.7,486.3L119.1,485.2L120.6,485.9L119.8,487.4L115.5,489.9L114.7,492.8M109.3,492.5L110.4,489.6L111.5,492.5M86.0,482.9L93.1,486.7L97.0,489.9" fill="none" stroke="#000" stroke-width="1.55" stroke-linejoin="round" stroke-linecap="round"/>
<path d="M204.8,459.2L200.3,460.5L203.0,463.8L204.6,464.5M204.6,463.9L200.3,467.9L194.7,465.5L200.6,470.9L204.8,467.9" fill="none" stroke="#000" stroke-width="1.15" stroke-linejoin="round"/>
<path d="M120.1,472.0L125.7,473.0L126.0,474.6L120.8,474.8Z" fill="#fff"/>
<path d="M61.40,286.0V493.0M97.55,286.0V493.0M133.20,286.0V493.0M169.05,286.0V493.0M25.3,298.83H205.2M25.3,337.62H205.2M25.3,376.77H205.2M25.3,416.02H205.2M25.3,454.86H205.2" fill="none" stroke="#000" stroke-opacity="0.6" stroke-width="1" stroke-dasharray="1.3 1.79"/>
<rect x="25.3" y="286.0" width="179.90" height="207.00" fill="none" stroke="#000" stroke-width="2.2"/>
<text class="b" x="26.5" y="503.5" text-anchor="middle">80<tspan class="dg" dy="-1.0">°</tspan><tspan dy="1.0">W</tspan></text>
<text class="b" x="62.6" y="503.5" text-anchor="middle">76<tspan class="dg" dy="-1.0">°</tspan><tspan dy="1.0">W</tspan></text>
<text class="b" x="98.8" y="503.5" text-anchor="middle">72<tspan class="dg" dy="-1.0">°</tspan><tspan dy="1.0">W</tspan></text>
<text class="b" x="134.4" y="503.5" text-anchor="middle">68<tspan class="dg" dy="-1.0">°</tspan><tspan dy="1.0">W</tspan></text>
<text class="b" x="170.2" y="503.5" text-anchor="middle">64<tspan class="dg" dy="-1.0">°</tspan><tspan dy="1.0">W</tspan></text>
<text class="b" x="206.4" y="503.5" text-anchor="middle">60<tspan class="dg" dy="-1.0">°</tspan><tspan dy="1.0">W</tspan></text>
<text class="b" x="22.3" y="300.1" text-anchor="end">39<tspan class="dg" dy="-1.0">°</tspan><tspan dy="1.0">S</tspan></text>
<text class="b" x="22.3" y="338.9" text-anchor="end">42<tspan class="dg" dy="-1.0">°</tspan><tspan dy="1.0">S</tspan></text>
<text class="b" x="22.3" y="378.1" text-anchor="end">45<tspan class="dg" dy="-1.0">°</tspan><tspan dy="1.0">S</tspan></text>
<text class="b" x="22.3" y="417.3" text-anchor="end">48<tspan class="dg" dy="-1.0">°</tspan><tspan dy="1.0">S</tspan></text>
<text class="b" x="22.3" y="456.2" text-anchor="end">51<tspan class="dg" dy="-1.0">°</tspan><tspan dy="1.0">S</tspan></text>
<text class="b" x="22.3" y="494.3" text-anchor="end">54<tspan class="dg" dy="-1.0">°</tspan><tspan dy="1.0">S</tspan></text>
<text class="r" x="29.3" y="310.3">(c)</text>
<rect x="227.5" y="286.1" width="16.3" height="207.7" fill="url(#jet)" stroke="#000" stroke-opacity="0.4" stroke-width="0.6"/>
<path d="M240.8,390.0h3" stroke="#000" stroke-opacity="0.7" stroke-width="0.7"/>
<text class="b u" x="235.8" y="279.9" text-anchor="middle">cm/yr</text>
<text class="b" x="248.0" y="290.2">5</text>
<text class="b" x="248.0" y="393.2">0</text>
<text class="b" x="248.0" y="497.3">-5</text>
<g clip-path="url(#clipd)">
<g transform="translate(306.1,285.95) scale(1.0025,1.0075) translate(-25.25,-17.2)">
<rect x="20" y="12" width="190" height="216" fill="url(#based)"/>
<path d="M75.0,17.0L104.0,17.0L103.0,40.0L100.0,60.0L101.0,73.0L75.0,73.0Z" fill="#2df554" stroke="#2df554" stroke-width="4" stroke-linejoin="round"/>
<path d="M122.0,26.0L143.0,25.0L156.0,35.6L151.0,42.6L138.0,47.0L127.0,42.6L121.0,34.1Z" fill="#64f546" stroke="#64f546" stroke-width="4" stroke-linejoin="round"/>
<path d="M75.0,74.0L103.0,75.4L110.1,85.7L104.0,96.0L75.0,101.1Z" fill="#5ff546" stroke="#5ff546" stroke-width="4" stroke-linejoin="round"/>
<rect x="20" y="12" width="190" height="216" fill="url(#gd0)"/>
<rect x="20" y="12" width="190" height="216" fill="url(#gd1)"/>
</g>
<rect x="481.9" y="285.9" width="4.3" height="11.9" fill="#fff"/>
</g>
<path d="M365.4,285.9L365.6,293.6L366.7,299.6L367.0,305.0L364.1,310.4L363.1,316.4L362.1,323.3L362.2,328.6L363.5,332.1L365.1,333.9L367.5,334.4L369.5,331.8L372.9,333.9L372.4,336.4L371.0,337.4L372.4,340.4L371.5,345.3L371.0,351.7L370.8,357.7L370.0,362.8L369.3,368.9L366.6,371.7L365.9,374.1L366.7,377.9L364.4,383.3L361.8,377.6L362.7,372.4L363.1,365.8L361.5,361.9L358.0,366.3L355.6,371.7L357.0,376.6L356.0,380.6L354.1,385.0L355.1,387.5L351.6,388.5L353.1,391.9L349.2,395.1L346.9,397.8L347.2,401.0L351.1,398.5L355.6,400.0L360.3,401.0L358.0,405.4L356.3,410.4L355.8,415.3L355.3,420.1L353.1,414.3L351.1,412.9L348.2,413.9L347.5,418.3L347.2,424.3L346.2,430.2L346.9,434.9L346.6,439.3L351.3,440.8L348.7,444.3L348.4,450.9L355.4,442.3L354.3,447.7L355.4,450.9L353.1,450.6L348.6,462.2L357.8,455.3L358.2,460.1L357.9,464.9L351.2,464.5L351.6,470.8L355.5,472.8L358.7,470.4L359.9,474.8L364.2,476.8L364.6,480.3L367.7,483.0L371.5,485.8L367.0,485.0L364.6,485.8L362.2,488.3L366.1,493.2M417.5,493.2L415.3,490.5L412.6,483.8L409.8,478.4L407.6,475.1L401.6,475.4L400.6,471.7L402.2,471.2L408.7,472.3L411.5,471.2L409.4,469.9L406.6,464.1L404.7,458.6L404.1,452.7L406.4,448.0L411.2,443.8L415.9,441.4L417.1,435.5L418.8,429.5L422.4,425.4L428.4,420.7L432.4,417.4L434.8,413.9L435.4,408.6L433.6,405.0L428.3,404.4L424.1,400.8L420.0,396.1L418.8,391.3L420.0,386.0L424.1,380.7L429.5,377.4L435.4,376.5L436.0,372.9L439.5,369.2L438.9,360.3L441.8,356.1L446.6,351.1L442.1,348.4L446.0,344.8L448.9,347.8L451.9,348.4L453.0,345.4L452.5,338.2L445.4,341.9L440.7,338.2L441.3,331.2L440.1,325.0L443.0,321.7L448.9,325.2L454.8,326.5L459.5,326.5L464.2,324.6L466.7,321.1L464.8,316.4L466.7,310.4L467.8,304.5L465.4,299.8L466.0,295.5L466.9,298.5L470.2,299.1L478.5,298.5L486.2,297.2M360.2,335.7L365.1,337.4L366.0,341.9L364.1,345.3L364.6,350.7L363.1,355.7L357.7,354.8L358.7,344.8L359.5,337.9ZM354.4,477.6L361.0,480.4L366.9,483.1L365.5,484.4L360.0,482.8L356.5,480.7ZM400.7,473.3L395.6,474.7L391.3,476.9L388.4,479.8L387.6,483.5L388.4,487.2L387.6,490.8L384.6,491.6L379.5,491.6L377.4,490.1L372.3,486.8L367.9,483.8M378.1,489.4L376.2,486.4L379.5,482.0L383.2,478.4L386.2,479.1L384.6,482.0L381.0,484.2L376.2,486.4M401.5,475.5L398.6,476.9L395.6,478.4L393.5,481.3L392.7,484.9L395.6,486.4L400.0,485.3L401.5,486.0L400.7,487.6L396.4,490.1L395.6,493.0M390.2,492.7L391.3,489.8L392.4,492.7M366.9,483.1L374.0,486.9L377.9,490.1" fill="none" stroke="#000" stroke-width="1.55" stroke-linejoin="round" stroke-linecap="round"/>
<path d="M485.8,459.3L481.3,460.7L484.0,464.0L485.6,464.7M485.6,464.1L481.3,468.1L475.7,465.7L481.6,471.0L485.8,468.1" fill="none" stroke="#000" stroke-width="1.15" stroke-linejoin="round"/>
<path d="M401.0,472.1L406.6,473.2L406.9,474.8L401.7,475.0Z" fill="#fff"/>
<path d="M342.24,285.9V493.2M378.43,285.9V493.2M414.12,285.9V493.2M450.01,285.9V493.2M306.1,298.80H486.2M306.1,337.64H486.2M306.1,376.83H486.2M306.1,416.12H486.2M306.1,455.01H486.2" fill="none" stroke="#000" stroke-opacity="0.6" stroke-width="1" stroke-dasharray="1.3 1.79"/>
<rect x="306.1" y="285.95" width="180.10" height="207.25" fill="none" stroke="#000" stroke-width="2.2"/>
<text class="b" x="307.3" y="503.7" text-anchor="middle">80<tspan class="dg" dy="-1.0">°</tspan><tspan dy="1.0">W</tspan></text>
<text class="b" x="343.4" y="503.7" text-anchor="middle">76<tspan class="dg" dy="-1.0">°</tspan><tspan dy="1.0">W</tspan></text>
<text class="b" x="379.6" y="503.7" text-anchor="middle">72<tspan class="dg" dy="-1.0">°</tspan><tspan dy="1.0">W</tspan></text>
<text class="b" x="415.3" y="503.7" text-anchor="middle">68<tspan class="dg" dy="-1.0">°</tspan><tspan dy="1.0">W</tspan></text>
<text class="b" x="451.2" y="503.7" text-anchor="middle">64<tspan class="dg" dy="-1.0">°</tspan><tspan dy="1.0">W</tspan></text>
<text class="b" x="487.4" y="503.7" text-anchor="middle">60<tspan class="dg" dy="-1.0">°</tspan><tspan dy="1.0">W</tspan></text>
<text class="b" x="303.1" y="300.1" text-anchor="end">39<tspan class="dg" dy="-1.0">°</tspan><tspan dy="1.0">S</tspan></text>
<text class="b" x="303.1" y="338.9" text-anchor="end">42<tspan class="dg" dy="-1.0">°</tspan><tspan dy="1.0">S</tspan></text>
<text class="b" x="303.1" y="378.1" text-anchor="end">45<tspan class="dg" dy="-1.0">°</tspan><tspan dy="1.0">S</tspan></text>
<text class="b" x="303.1" y="417.4" text-anchor="end">48<tspan class="dg" dy="-1.0">°</tspan><tspan dy="1.0">S</tspan></text>
<text class="b" x="303.1" y="456.3" text-anchor="end">51<tspan class="dg" dy="-1.0">°</tspan><tspan dy="1.0">S</tspan></text>
<text class="b" x="303.1" y="494.5" text-anchor="end">54<tspan class="dg" dy="-1.0">°</tspan><tspan dy="1.0">S</tspan></text>
<text class="r" x="310.1" y="310.2">(d)</text>
<rect x="508.7" y="286.0" width="16.0" height="207.8" fill="url(#jet)" stroke="#000" stroke-opacity="0.4" stroke-width="0.6"/>
<path d="M521.7,389.9h3" stroke="#000" stroke-opacity="0.7" stroke-width="0.7"/>
<text class="b u" x="516.5" y="279.9" text-anchor="middle">cm/yr</text>
<text class="b" x="529.6" y="290.2">1</text>
<text class="b" x="529.6" y="341.5">0.5</text>
<text class="b" x="529.6" y="393.2">0</text>
<text class="b" x="529.6" y="445.0">-0.5</text>
<text class="b" x="529.6" y="497.3">-1</text>
<g fill="#ff2818"><circle cx="360.9" cy="151" r="1.8"/><circle cx="378.3" cy="68.5" r="1.8"/></g>
<text class="ab" x="368.4" y="153.8">A</text><text class="ab" x="386.8" y="71.9">B</text>
</svg>
</body></html>
